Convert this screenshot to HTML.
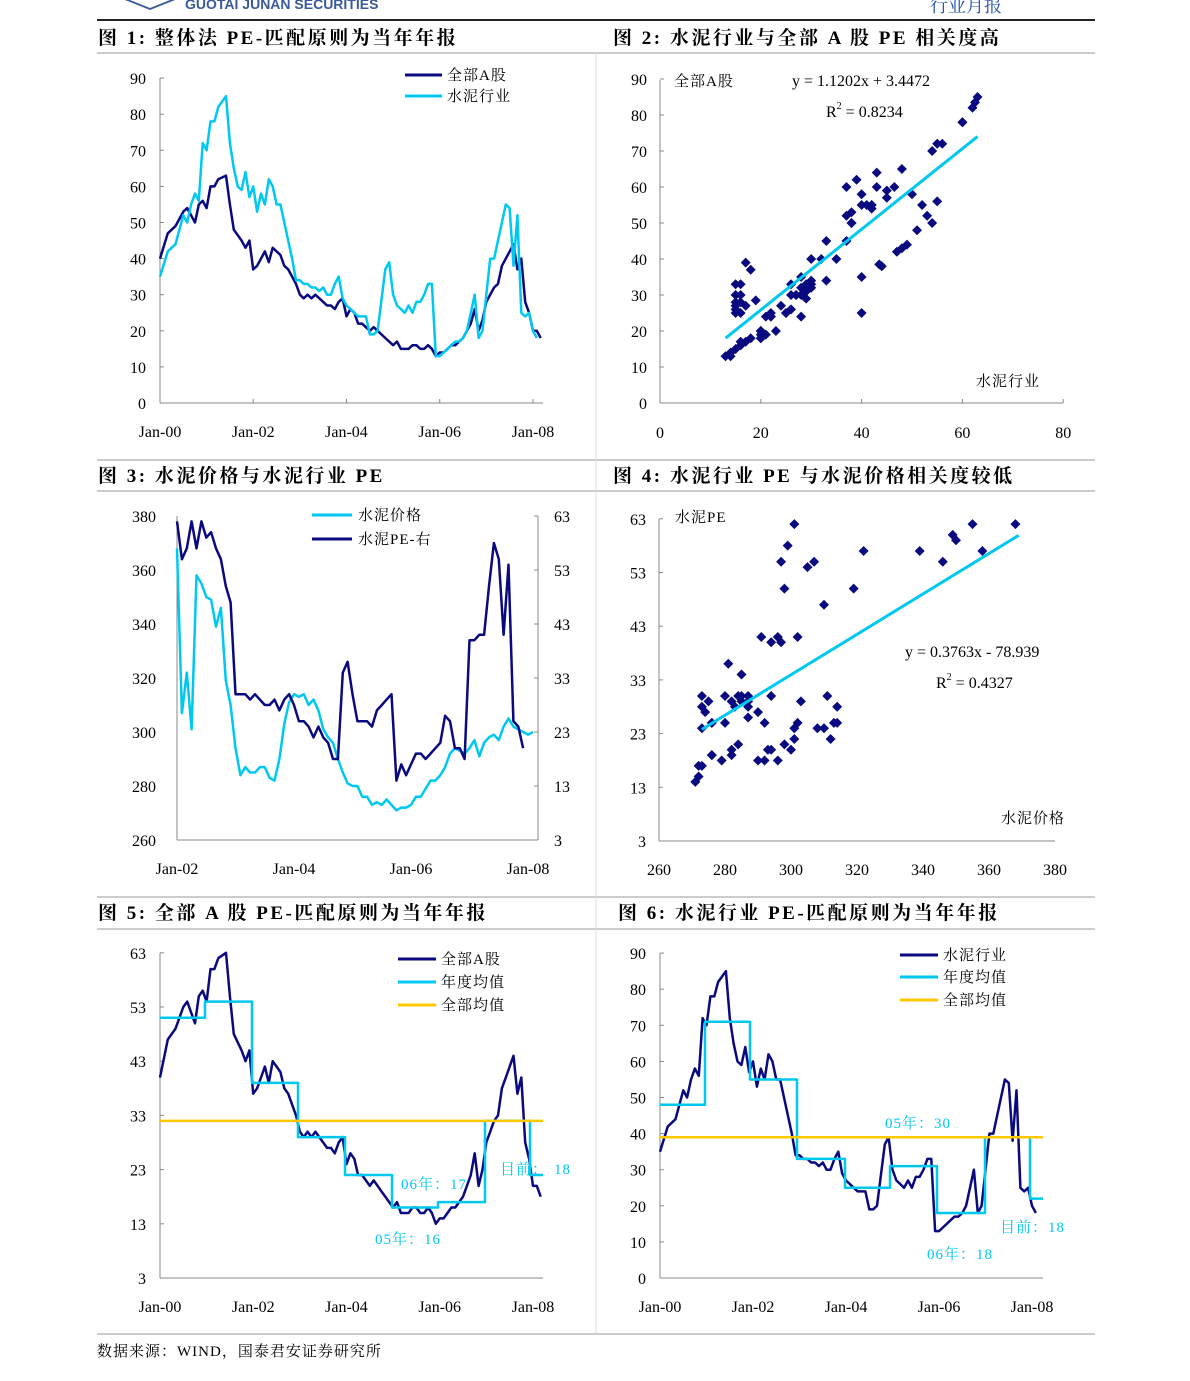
<!DOCTYPE html>
<html><head><meta charset="utf-8">
<style>
html,body{margin:0;padding:0;background:#fff;width:1190px;height:1381px;overflow:hidden}
svg{display:block}
.n{font-family:"Liberation Serif","Noto Serif CJK SC",serif;font-size:16px;fill:#000}
.c{font-family:"Liberation Serif","Noto Serif CJK SC",serif;font-size:15px;fill:#000;letter-spacing:1px}
.t{font-family:"Liberation Serif","Noto Serif CJK SC",serif;font-size:19px;font-weight:bold;fill:#000;letter-spacing:2.5px}
</style></head><body>
<svg id="s" width="1190" height="1381" xmlns="http://www.w3.org/2000/svg">
<text x="185" y="9" style="font-family:'Liberation Sans',sans-serif;font-size:14px;font-weight:bold;fill:#3a5a9a">GUOTAI JUNAN SECURITIES</text>
<path d="M130,0 L150,8 L170,0 L175,0 L150,10 L125,0Z" fill="#3a5a9a"/>
<text x="930" y="12" style="font-family:'Noto Serif CJK SC',serif;font-size:18px;fill:#2050b0">行业月报</text>
<line x1="97" y1="20" x2="1095" y2="20" stroke="#222" stroke-width="2"/>
<line x1="97" y1="53" x2="1095" y2="53" stroke="#999"/>
<line x1="97" y1="460" x2="1095" y2="460" stroke="#999"/>
<line x1="97" y1="491" x2="1095" y2="491" stroke="#999"/>
<line x1="97" y1="897" x2="1095" y2="897" stroke="#999"/>
<line x1="97" y1="929" x2="1095" y2="929" stroke="#999"/>
<line x1="97" y1="1334" x2="1095" y2="1334" stroke="#999"/>
<line x1="596" y1="53" x2="596" y2="1334" stroke="#ddd"/>
<text class="t" x="98" y="44">图 1: 整体法 PE-匹配原则为当年年报</text>
<text class="t" x="613" y="44">图 2: 水泥行业与全部 A 股 PE 相关度高</text>
<text class="t" x="98" y="482">图 3: 水泥价格与水泥行业 PE</text>
<text class="t" x="613" y="482">图 4: 水泥行业 PE 与水泥价格相关度较低</text>
<text class="t" x="98" y="919">图 5: 全部 A 股 PE-匹配原则为当年年报</text>
<text class="t" x="618" y="919">图 6: 水泥行业 PE-匹配原则为当年年报</text>
<text class="c" x="97" y="1356">数据来源：WIND，国泰君安证券研究所</text>
<g id="g"></g>
</svg>
<script>
var g=document.getElementById('g'),h='';
function T(x,y,s,a,cls,fill){h+='<text class="'+(cls||'n')+'" x="'+x+'" y="'+y+'" text-anchor="'+(a||'start')+'"'+(fill?' style="fill:'+fill+'"':'')+'>'+s+'</text>';}
function L(x1,y1,x2,y2,c,w){h+='<line x1="'+x1+'" y1="'+y1+'" x2="'+x2+'" y2="'+y2+'" stroke="'+c+'" stroke-width="'+(w||1)+'"/>';}
function P(pts,c,w){h+='<polyline fill="none" stroke="'+c+'" stroke-width="'+(w||2.5)+'" stroke-linejoin="round" points="'+pts.map(function(p){return p[0].toFixed(1)+','+p[1].toFixed(1)}).join(' ')+'"/>';}
function D(x,y){h+='<path d="M'+x+','+(y-5)+'L'+(x+5)+','+y+'L'+x+','+(y+5)+'L'+(x-5)+','+y+'Z" fill="#0a0a80"/>';}
var NAV='#0a0a80',CY='#00c8f0',YE='#ffc800';
var A=[[0,40],[2,47],[4,49],[6,53],[7,54],[8,52],[9,50],[10,55],[11,56],[12,54],[13,60],[14,60],[15,62],[17,63],[18,55],[19,48],[21,45],[22,43],[23,45],[24,37],[25,38],[26,40],[27,42],[28,39],[29,43],[30,42],[31,41],[32,38],[33,37],[34,35],[35,33],[36,30],[37,29],[38,30],[39,29],[40,30],[41,29],[42,28],[43,27],[44,27],[45,26],[46,28],[47,29],[48,24],[49,26],[50,25],[51,22],[52,22],[53,21],[54,20],[55,21],[56,20],[57,19],[58,18],[59,17],[60,16],[61,17],[62,15],[63,15],[64,15],[65,16],[66,16],[67,15],[68,15],[69,16],[70,15],[71,13],[72,14],[73,14],[74,15],[75,16],[76,16],[77,17],[78,18],[79,20],[80,22],[81,26],[82,20],[83,23],[84,28],[85,30],[86,32],[87,33],[88,38],[89,40],[91,44],[92,37],[93,40],[94,28],[95,25],[96,20],[97,20],[98,18]];
var C=[[0,35],[2,42],[4,44],[5,48],[6,52],[7,50],[8,55],[9,58],[10,56],[11,72],[12,70],[13,78],[14,78],[15,82],[17,85],[18,72],[19,65],[20,60],[21,59],[22,64],[23,57],[24,60],[25,53],[26,58],[27,55],[28,62],[29,60],[30,55],[31,55],[32,50],[33,45],[34,40],[35,34],[36,34],[37,33],[38,33],[39,32],[40,32],[41,31],[42,32],[43,30],[44,30],[45,33],[46,35],[47,29],[48,27],[49,26],[50,25],[51,24],[52,24],[53,24],[54,19],[55,19],[56,20],[58,37],[59,39],[60,30],[61,27],[62,26],[63,25],[64,27],[65,25],[66,28],[67,28],[68,30],[69,33],[70,33],[71,13],[72,13],[73,14],[74,15],[75,16],[76,17],[77,17],[78,18],[79,20],[80,25],[81,30],[82,18],[83,20],[84,30],[85,40],[86,40],[88,50],[89,55],[90,54],[91,38],[92,52],[93,25],[94,24],[95,25],[96,20],[97,18]];
function interp(S,m){for(var i=1;i<S.length;i++){if(S[i][0]>=m){var a=S[i-1],b=S[i];return a[1]+(b[1]-a[1])*(m-a[0])/(b[0]-a[0]);}}return S[S.length-1][1];}
(function(){var X=function(m){return 160+m*3.885},Y=function(v){return 403-v*3.61};
L(160,78,160,403,'#888');L(160,403,543,403,'#888');
var v=[90,80,70,60,50,40,30,20,10,0];for(var i=0;i<10;i++){T(146,Y(v[i])+6,v[i],'end');L(160,Y(v[i]),164,Y(v[i]),'#888');}
[['Jan-00',0],['Jan-02',24],['Jan-04',48],['Jan-06',72],['Jan-08',96]].forEach(function(t){T(X(t[1]),437,t[0],'middle');L(X(t[1]),403,X(t[1]),399,'#888');});
P(A.map(function(p){return[X(p[0]),Y(p[1])]}),NAV);P(C.map(function(p){return[X(p[0]),Y(p[1])]}),CY);
L(405,75,442,75,NAV,3);L(405,96,442,96,CY,3);T(447,80,'全部A股','start','c');T(447,101,'水泥行业','start','c');})();
(function(){var X=function(v){return 660+v*5.04},Y=function(v){return 403-v*3.6};
L(660,80,660,403,'#888');L(660,403,1063,403,'#888');
for(var v=0;v<=90;v+=10){T(647,Y(v)+6,v,'end');L(660,Y(v),664,Y(v),'#888');}
for(var v=0;v<=80;v+=20){T(X(v),438,v,'middle');L(X(v),403,X(v),399,'#888');}
for(var m=0;m<=97;m++){D(X(interp(A,m)),Y(interp(C,m)));}
L(X(13),Y(1.1202*13+3.4472),X(63),Y(1.1202*63+3.4472),CY,3);
T(674,86,'全部A股','start','c');T(1040,386,'水泥行业','end','c');
T(792,86,'y = 1.1202x + 3.4472');T(826,117,'R<tspan dy="-8" font-size="10">2</tspan><tspan dy="8"> = 0.8234</tspan>');})();
var PR=[[0,368],[1,307],[2,322],[3,301],[4,358],[5,355],[6,350],[7,349],[8,339],[9,346],[10,319],[11,310],[12,294],[13,284],[14,287],[15,285],[16,285],[17,287],[18,287],[19,283],[20,282],[21,290],[22,303],[23,311],[24,314],[25,313],[26,314],[27,310],[28,312],[29,308],[30,301],[31,298],[32,296],[33,290],[34,285],[35,281],[36,280],[37,280],[38,276],[39,276],[40,273],[41,274],[42,273],[43,275],[44,273],[45,271],[46,272],[47,272],[48,273],[49,276],[50,276],[51,279],[52,282],[53,282],[54,284],[55,287],[56,292],[57,294],[58,293],[59,292],[60,294],[61,297],[62,291],[63,296],[64,298],[65,299],[66,297],[67,302],[68,305],[69,302],[70,301],[71,300],[72,299],[73,300]];
var PE=[[0,62],[1,55],[2,57],[3,62],[4,57],[5,62],[6,59],[7,60],[8,57],[9,55],[10,50],[11,47],[12,30],[13,30],[14,30],[15,29],[16,30],[17,29],[18,28],[19,28],[20,29],[21,27],[22,29],[23,30],[24,28],[25,25],[26,25],[27,24],[28,22],[29,24],[30,22],[31,21],[32,18],[33,18],[34,34],[35,36],[36,30],[37,25],[38,25],[39,25],[40,24],[41,27],[42,28],[43,29],[44,30],[45,14],[46,17],[47,15],[48,17],[49,19],[50,19],[51,18],[52,19],[53,20],[54,21],[55,26],[56,25],[57,20],[58,20],[59,18],[60,40],[61,40],[62,41],[63,41],[64,50],[65,58],[66,55],[67,41],[68,54],[69,25],[70,24],[71,20]];
(function(){var X=function(m){return 177+m*4.875},Y=function(v){return 840-(v-260)*2.7},Y2=function(v){return 840-(v-3)*5.4};
L(177,516,177,840,'#888');L(177,840,538,840,'#888');L(538,516,538,840,'#888');
for(var v=260;v<=380;v+=20){T(156,Y(v)+6,v,'end');}
for(var v=3;v<=63;v+=10){T(554,Y2(v)+6,v);L(534,Y2(v),538,Y2(v),'#888');}
[['Jan-02',0],['Jan-04',24],['Jan-06',48],['Jan-08',72]].forEach(function(t){T(X(t[1]),874,t[0],'middle');});
P(PR.map(function(p){return[X(p[0]),Y(p[1])]}),CY);P(PE.map(function(p){return[X(p[0]),Y2(p[1])]}),NAV);
L(312,515,352,515,CY,3);L(312,539,352,539,NAV,3);T(358,520,'水泥价格','start','c');T(358,544,'水泥PE-右','start','c');})();
(function(){var X=function(v){return 659+(v-260)*3.3},Y=function(v){return 841-(v-3)*5.37};
L(659,519,659,841,'#888');L(659,841,1055,841,'#888');
for(var v=3;v<=63;v+=10){T(646,Y(v)+6,v,'end');L(659,Y(v),663,Y(v),'#888');}
for(var v=260;v<=380;v+=20){T(X(v),875,v,'middle');}
for(var m=0;m<=71;m++){D(X(interp(PR,m)),Y(interp(PE,m)));}
L(X(273),Y(0.3763*273-78.939),X(369),Y(0.3763*369-78.939),CY,3);
T(675,522,'水泥PE','start','c');T(1065,823,'水泥价格','end','c');
T(905,657,'y = 0.3763x - 78.939');T(936,688,'R<tspan dy="-8" font-size="10">2</tspan><tspan dy="8"> = 0.4327</tspan>');})();
(function(){var X=function(m){return 160+m*3.885},Y=function(v){return 1278-(v-3)*5.42};
L(160,953,160,1278,'#888');L(160,1278,543,1278,'#888');
for(var v=3;v<=63;v+=10){T(146,Y(v)+6,v,'end');L(160,Y(v),164,Y(v),'#888');}
[['Jan-00',0],['Jan-02',24],['Jan-04',48],['Jan-06',72],['Jan-08',96]].forEach(function(t){T(X(t[1]),1312,t[0],'middle');});
P(A.map(function(p){return[X(p[0]),Y(p[1])]}),NAV);
var st=[[160,205,51],[205,252,54],[252,298,39],[298,345,29],[345,392,22],[392,438,16],[438,485,17],[485,530,32],[530,543,22]],pts=[];
st.forEach(function(s){pts.push([s[0],Y(s[2])],[s[1],Y(s[2])]);});P(pts,CY);
L(160,Y(32),543,Y(32),YE,2.5);
L(398,959,436,959,NAV,3);L(398,982,436,982,CY,3);L(398,1005,436,1005,YE,3);
T(441,964,'全部A股','start','c');T(441,987,'年度均值','start','c');T(441,1010,'全部均值','start','c');
T(401,1189,'06年：17','start','c',CY);T(375,1244,'05年：16','start','c',CY);T(500,1174,'目前：','start','c',CY);T(554,1174,'18','start','c',CY);})();
(function(){var X=function(m){return 660+m*3.875},Y=function(v){return 1278-v*3.61};
L(660,953,660,1278,'#888');L(660,1278,1043,1278,'#888');
for(var v=0;v<=90;v+=10){T(646,Y(v)+6,v,'end');L(660,Y(v),664,Y(v),'#888');}
[['Jan-00',0],['Jan-02',24],['Jan-04',48],['Jan-06',72],['Jan-08',96]].forEach(function(t){T(X(t[1]),1312,t[0],'middle');});
P(C.map(function(p){return[X(p[0]),Y(p[1])]}),NAV);
var st=[[660,705,48],[705,750,71],[750,797,55],[797,845,33],[845,890,25],[890,937,31],[937,985,18],[985,1030,39],[1030,1043,22]],pts=[];
st.forEach(function(s){pts.push([s[0],Y(s[2])],[s[1],Y(s[2])]);});P(pts,CY);
L(660,Y(39),1043,Y(39),YE,2.5);
L(900,955,938,955,NAV,3);L(900,977,938,977,CY,3);L(900,1000,938,1000,YE,3);
T(943,960,'水泥行业','start','c');T(943,982,'年度均值','start','c');T(943,1005,'全部均值','start','c');
T(885,1128,'05年：30','start','c',CY);T(927,1259,'06年：18','start','c',CY);T(1000,1232,'目前：18','start','c',CY);})();
g.innerHTML=h;
</script>
</body></html>
